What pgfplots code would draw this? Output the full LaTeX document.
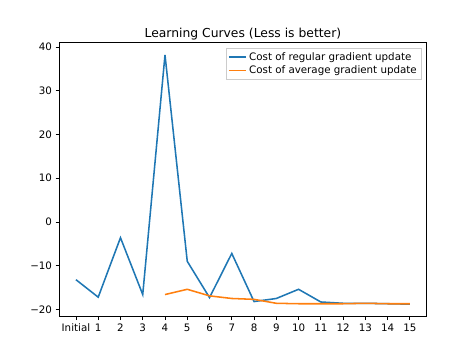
\documentclass[border=0pt]{standalone}
\usepackage{fontspec}
\setmainfont{DejaVu Sans}
\usepackage{pgfplots}
\pgfplotsset{compat=1.18}
\definecolor{c0}{HTML}{1F77B4}
\definecolor{c1}{HTML}{FF7F0E}
\begin{document}
\begin{tikzpicture}
\path[use as bounding box] (0,0) rectangle (460.8pt,345.6pt);
\begin{axis}[
  at={(57.6pt,38.0pt)}, anchor=south west,
  scale only axis, width=357.1pt, height=266.1pt,
  xmin=-0.75, xmax=15.75, ymin=-21.6, ymax=41.0,
  xtick={0,...,15},
  xticklabels={Initial,1,2,3,4,5,6,7,8,9,10,11,12,13,14,15},
  ytick={-20,-10,0,10,20,30,40},
  yticklabels={−20,−10,0,10,20,30,40},
  tick pos=left, tick align=outside,
  major tick length=3.5pt,
  every tick/.style={black, line width=0.8pt},
  axis line style={line width=0.8pt},
  tick label style={font=\fontsize{10}{12}\selectfont},
  /pgf/number format/assume math mode=true,
  title={Learning Curves (Less is better)},
  title style={font=\fontsize{12}{14}\selectfont, yshift=-7pt},
  legend style={at={(0.985,0.98)}, anchor=north east, font=\fontsize{10}{12}\selectfont,
    draw=black!20, inner sep=2pt},
  legend cell align=left,
]
\addlegendimage{c0, line width=1.5pt}
\addlegendentry{Cost of regular gradient update}
\addlegendimage{c1, line width=1.5pt}
\addlegendentry{Cost of average gradient update}
\addplot[c0, line width=1.5pt, forget plot] coordinates {
(0,-13.2) (1,-17.2) (2,-3.6) (3,-16.6) (4,38.2) (5,-9.0) (6,-17.3) (7,-7.2)
(8,-18.2) (9,-17.5) (10,-15.4) (11,-18.3) (12,-18.6) (13,-18.6) (14,-18.7) (15,-18.8)};
\addplot[c1, line width=1.5pt, forget plot] coordinates {
(4,-16.6) (5,-15.4) (6,-16.9) (7,-17.5) (8,-17.7) (9,-18.6) (10,-18.7) (11,-18.7)
(12,-18.7) (13,-18.6) (14,-18.7) (15,-18.7)};
\end{axis}
\end{tikzpicture}
\end{document}
